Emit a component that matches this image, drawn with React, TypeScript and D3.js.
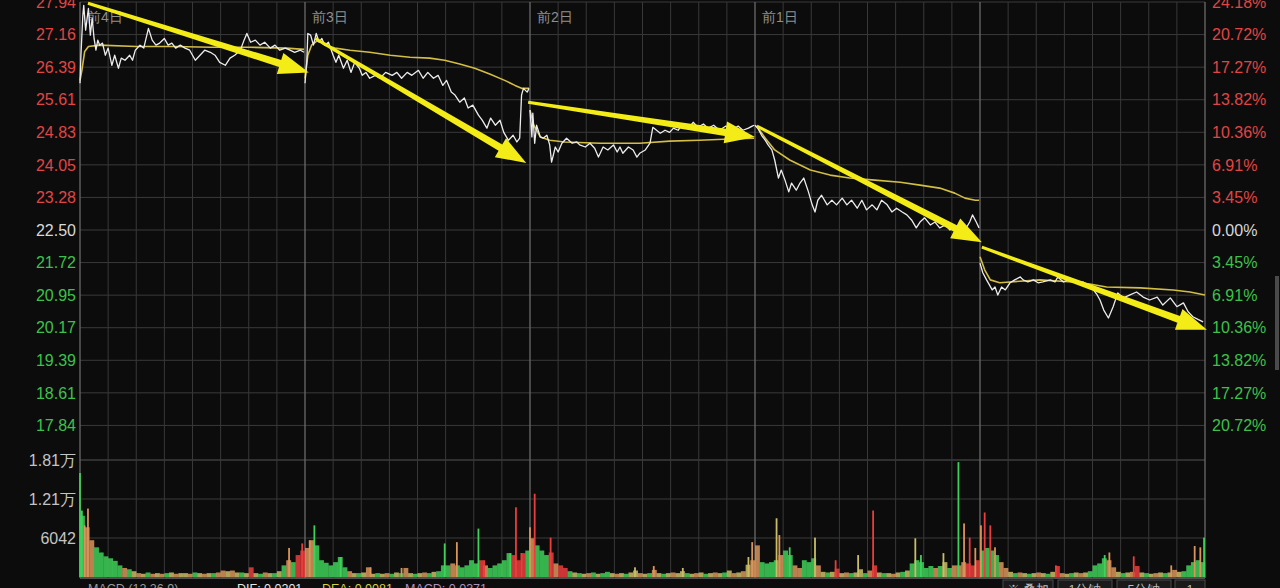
import React from 'react';
import * as d3 from 'd3';

type P = [number, number];

// ---------- axis labels ----------
const priceLabels = ['27.94', '27.16', '26.39', '25.61', '24.83', '24.05', '23.28', '22.50', '21.72', '20.95', '20.17', '19.39', '18.61', '17.84'];
const pctLabels = ['24.18%', '20.72%', '17.27%', '13.82%', '10.36%', '6.91%', '3.45%', '0.00%', '3.45%', '6.91%', '10.36%', '13.82%', '17.27%', '20.72%'];
const volTickValues = [18126, 12084, 6042];
const volTickLabels = ['1.81万', '1.21万', '6042'];
const dayLabels = ['前4日', '前3日', '前2日', '前1日'];
const preClose = 22.5;
const priceTop = 27.94;

// ---------- price (minute of day, price) ----------
const day1Price: P[] = [
  [0, 26.0], [1, 26.67], [3, 27.62], [4, 27.86], [6, 27.27], [9, 27.79], [11, 27.15], [13, 27.55], [15, 27.07], [17, 26.79],
  [19, 27.03], [21, 26.91], [24, 26.96], [27, 26.67], [30, 26.84], [34, 26.43], [37, 26.67], [41, 26.36], [44, 26.6], [48, 26.55],
  [53, 26.67], [56, 26.55], [59, 26.79], [64, 26.91], [68, 26.84], [73, 27.31], [77, 27.03], [81, 26.91], [85, 26.96], [90, 27.07],
  [94, 26.91], [98, 26.96], [102, 26.84], [107, 26.91], [112, 26.84], [117, 26.79], [123, 26.55], [128, 26.67], [133, 26.79], [139, 26.74],
  [144, 26.67], [149, 26.5], [155, 26.43], [160, 26.6], [165, 26.67], [171, 26.79], [175, 27.03], [178, 27.19], [182, 26.98], [187, 27.03],
  [192, 26.91], [197, 26.98], [203, 26.84], [208, 26.91], [213, 26.79], [219, 26.84], [224, 26.79], [229, 26.74], [235, 26.79], [239, 26.74],
];
const day2Price: P[] = [
  [0, 26.0], [2, 26.55], [3, 27.19], [6, 27.15], [9, 26.91], [12, 27.19], [15, 26.98], [18, 27.07], [21, 26.91], [25, 26.98],
  [30, 26.67], [33, 26.5], [36, 26.67], [41, 26.36], [45, 26.55], [49, 26.26], [53, 26.5], [58, 26.36], [61, 26.19], [65, 26.26],
  [69, 26.12], [75, 26.19], [80, 26.12], [86, 26.26], [93, 26.19], [98, 26.26], [103, 26.12], [109, 26.26], [114, 26.19], [121, 26.31],
  [126, 26.12], [131, 26.26], [137, 26.12], [142, 26.19], [147, 25.95], [151, 26.07], [156, 25.79], [160, 25.72], [165, 25.55], [170, 25.65],
  [174, 25.41], [179, 25.48], [185, 25.24], [189, 25.12], [194, 24.93], [198, 25.17], [203, 25.0], [208, 25.12], [212, 24.83], [217, 24.64],
  [222, 24.76], [226, 24.6], [229, 24.69], [231, 25.72], [233, 25.88], [237, 25.79], [239, 25.88],
];
const day3Price: P[] = [
  [0, 25.36], [2, 24.72], [3, 25.29], [5, 24.57], [7, 25.0], [11, 24.72], [14, 24.69], [18, 24.76], [21, 24.53], [23, 24.12],
  [27, 24.48], [30, 24.36], [34, 24.57], [39, 24.69], [45, 24.57], [50, 24.6], [53, 24.53], [59, 24.48], [64, 24.57], [69, 24.45],
  [73, 24.24], [78, 24.48], [83, 24.41], [89, 24.53], [93, 24.36], [96, 24.48], [99, 24.33], [105, 24.48], [110, 24.41], [114, 24.24],
  [117, 24.33], [123, 24.41], [128, 24.57], [131, 24.95], [135, 24.88], [139, 24.81], [144, 24.88], [149, 24.83], [153, 24.93], [158, 24.88],
  [162, 25.0], [169, 24.93], [174, 25.07], [179, 24.95], [185, 25.03], [190, 24.93], [196, 25.0], [202, 24.88], [209, 24.98], [215, 24.88],
  [222, 24.98], [227, 24.88], [233, 24.93], [237, 24.98], [239, 25.0],
];
const day4Price: P[] = [
  [0, 25.0], [3, 24.93], [7, 24.76], [11, 24.64], [14, 24.53], [18, 24.41], [21, 24.17], [25, 23.74], [28, 23.93], [32, 23.69],
  [36, 23.41], [39, 23.62], [44, 23.45], [48, 23.62], [52, 23.74], [57, 23.41], [61, 23.1], [64, 22.93], [67, 23.21], [71, 23.33],
  [77, 23.1], [82, 23.21], [87, 23.1], [93, 23.26], [98, 23.1], [103, 23.21], [109, 23.02], [114, 23.21], [119, 22.98], [125, 23.1],
  [130, 22.98], [135, 23.21], [141, 23.1], [146, 22.93], [151, 23.02], [157, 22.93], [162, 22.86], [167, 22.74], [172, 22.55], [176, 22.69],
  [181, 22.79], [187, 22.62], [192, 22.69], [197, 22.55], [203, 22.62], [208, 22.5], [213, 22.55], [219, 22.4], [224, 22.5], [229, 22.69],
  [232, 22.86], [236, 22.69], [239, 22.55],
];
const day5Price: P[] = [
  [0, 21.71], [3, 21.48], [7, 21.31], [13, 21.07], [16, 21.14], [19, 20.95], [23, 21.14], [27, 21.07], [32, 21.24], [37, 21.31],
  [43, 21.38], [46, 21.31], [51, 21.26], [57, 21.31], [62, 21.24], [67, 21.26], [75, 21.31], [80, 21.26], [83, 21.38], [89, 21.26],
  [94, 21.31], [99, 21.31], [105, 21.24], [110, 21.26], [115, 21.19], [121, 21.07], [125, 20.95], [128, 20.83], [132, 20.59], [137, 20.4],
  [142, 20.67], [147, 21.0], [153, 20.88], [160, 20.95], [167, 21.02], [174, 20.9], [181, 20.83], [189, 20.9], [195, 20.71], [203, 20.88],
  [210, 20.67], [217, 20.76], [222, 20.55], [227, 20.43], [233, 20.36], [238, 20.31],
];

// ---------- average price ----------
const day1Avg: P[] = [[0, 26.07], [2, 26.31], [5, 26.76], [9, 26.88], [21, 26.91], [60, 26.88], [100, 26.88], [140, 26.86], [181, 26.86], [220, 26.84], [239, 26.81]];
const day2Avg: P[] = [[0, 26.12], [3, 26.67], [7, 26.91], [14, 27.03], [21, 26.91], [32, 26.84], [48, 26.79], [69, 26.74], [91, 26.67], [112, 26.62], [133, 26.6], [149, 26.55], [165, 26.46], [181, 26.36], [197, 26.22], [213, 26.07], [224, 25.95], [231, 25.88], [239, 25.88]];
const day3Avg: P[] = [[0, 25.36], [4, 25.0], [11, 24.72], [21, 24.64], [37, 24.6], [75, 24.57], [117, 24.57], [149, 24.62], [181, 24.64], [213, 24.67], [239, 24.69]];
const day4Avg: P[] = [[0, 25.0], [5, 24.88], [11, 24.69], [21, 24.41], [37, 24.17], [59, 23.93], [80, 23.81], [101, 23.74], [128, 23.69], [155, 23.64], [176, 23.57], [197, 23.5], [213, 23.38], [224, 23.26], [235, 23.21], [239, 23.21]];
const day5Avg: P[] = [[0, 21.86], [5, 21.55], [11, 21.31], [21, 21.24], [32, 21.26], [64, 21.31], [99, 21.26], [117, 21.21], [135, 21.14], [171, 21.12], [206, 21.07], [224, 21.02], [240, 20.95]];

const dayPrices = [day1Price, day2Price, day3Price, day4Price, day5Price];
const dayAvgs = [day1Avg, day2Avg, day3Avg, day4Avg, day5Avg];

// ---------- volume: 48 five-minute slots per day + spikes ----------
const day1Vol = [9500, 7700, 5700, 4600, 3800, 3200, 2900, 2500, 1800, 1400, 1200, 900, 600, 500, 700, 500, 600, 500, 600, 700, 500, 600, 600, 500, 700, 600, 500, 600, 600, 700, 1000, 900, 1000, 700, 700, 600, 1500, 600, 500, 700, 600, 600, 900, 1800, 2600, 2300, 3400, 4100];
const day1VolColor = 'googgggggogy' + 'oygoyogyoy' + 'yogyoygo' + 'oyoygyrygoyg' + 'ygogrr';
const day2Vol = [4500, 5700, 4900, 2600, 2200, 1800, 2300, 3100, 1500, 900, 600, 600, 700, 1500, 500, 600, 500, 600, 500, 700, 600, 1400, 600, 500, 600, 700, 600, 800, 900, 1800, 1800, 2100, 1800, 1500, 1800, 2600, 2100, 2600, 1800, 1400, 1800, 2100, 2600, 3700, 3400, 2600, 3700, 4100];
const day2VolColor = 'oo' + 'ggggggg' + 'o' + 'ygyoygyogygoygyogyg' + 'gg' + 'o' + 'ggggg' + 'r' + 'o' + 'ggggg' + 'rrr' + 'g';
const day3Vol = [6000, 4900, 4100, 3400, 3800, 2100, 1800, 1400, 900, 700, 600, 500, 600, 700, 500, 600, 800, 600, 500, 600, 500, 700, 1000, 600, 500, 600, 1100, 600, 500, 600, 700, 600, 900, 600, 500, 600, 700, 500, 600, 700, 600, 700, 1000, 600, 700, 900, 1900, 2600];
const day3VolColor = 'ogggrorr' + 'gygyogyg' + 'gyoygyyo' + 'ygoygyoy' + 'ygyoygyo' + 'ygyoyoyo';
const day4Vol = [4900, 2300, 2100, 2300, 2600, 3400, 4100, 3400, 1800, 1400, 2600, 2300, 2900, 1800, 800, 700, 800, 1300, 600, 700, 600, 700, 1200, 600, 1000, 1800, 700, 600, 600, 500, 700, 800, 1000, 2100, 2600, 2300, 1400, 1700, 1400, 1700, 2300, 1400, 1800, 1800, 2300, 2100, 1800, 2600];
const day4VolColor = 'oggggogg' + 'oogggoyg' + 'yryogyyg' + 'orygyoyg' + 'ygggggog' + 'ygooorrr';
const day5Vol = [4100, 4500, 4100, 3400, 2300, 1400, 800, 600, 700, 600, 500, 600, 700, 600, 500, 800, 1700, 600, 500, 600, 700, 600, 700, 900, 1800, 2100, 2900, 2600, 1500, 800, 600, 700, 800, 1700, 700, 600, 500, 600, 700, 600, 700, 1100, 800, 900, 1800, 2300, 2600, 2300];
const day5VolColor = 'ggggooyg' + 'oygyoygy' + 'roygyoyg' + 'gggooygy' + 'orygyoyg' + 'yoyggggg';
const dayVols = [day1Vol, day2Vol, day3Vol, day4Vol, day5Vol];
const dayVolColors = [day1VolColor, day2VolColor, day3VolColor, day4VolColor, day5VolColor];

// [minute over five days, volume, colour]
const volSpikes: [number, number, string][] = [
  [0, 16100, 'g'], [2, 10300, 'g'], [5, 8000, 'o'], [8.5, 10600, 'o'], [223, 4500, 'o'], [237, 5200, 'r'], [245, 5700, 'o'],
  [250, 8000, 'g'], [278, 3100, 'g'], [310, 1500, 'o'], [343, 1400, 'o'], [389, 5200, 'g'], [402, 5400, 'o'], [425, 7500, 'g'],
  [431, 2600, 'r'], [459, 3700, 'g'], [465, 10800, 'r'], [471, 3700, 'r'], [480, 7700, 'o'], [485, 12900, 'r'], [502, 6100, 'r'],
  [592, 1500, 'y'], [612, 1700, 'o'], [643, 1400, 'y'], [713, 3100, 'y'], [717, 5400, 'o'], [743, 9100, 'y'], [746, 6500, 'o'],
  [757, 4600, 'g'], [784, 6100, 'y'], [806, 2600, 'r'], [830, 3400, 'y'], [846, 10300, 'r'], [891, 6000, 'y'], [897, 3400, 'g'],
  [921, 3700, 'y'], [937, 17800, 'g'], [943, 8300, 'o'], [949, 6100, 'r'], [955, 4500, 'o'], [961, 8000, 'o'], [965, 10000, 'r'],
  [971, 8000, 'r'], [976, 4600, 'o'], [1041, 1800, 'r'], [1093, 3400, 'g'], [1098, 3800, 'o'], [1124, 3200, 'r'], [1164, 1800, 'o'],
  [1189, 4800, 'o'], [1195, 4600, 'o'], [1199, 6100, 'g'],
];

// ---------- annotation arrows: [minute, price] start -> tip ----------
const arrows: [P, P][] = [
  [[8.5, 27.91], [244, 26.26]],
  [[251, 27.07], [476, 24.1]],
  [[478, 25.55], [720, 24.72]],
  [[722, 24.98], [962, 22.21]],
  [[962, 22.09], [1202, 20.12]],
];

const bottomTexts = [
  { t: 'MACD  (12,26,9)', c: '#9a9a9a', x: 88 },
  { t: 'DIF: 0.0201', c: '#e6e6e6', x: 237 },
  { t: 'DEA: 0.0081', c: '#d8d040', x: 322 },
  { t: 'MACD: 0.0371', c: '#b090c0', x: 405 },
];
const bottomTabs = ['※ 叠加', '1分钟', '5分钟', '1'];

const volColorMap: Record<string, string> = { g: '#3fd15a', r: '#ec3d3d', o: '#d9955a', y: '#c9bd66' };
const FONT = "'Liberation Sans', Arial, sans-serif";

export default function App() {
  const step = (priceTop - preClose) / 7;
  const x = d3.scaleLinear().domain([0, 1200]).range([80, 1205]);
  const y = d3.scaleLinear().domain([priceTop - 14 * step, priceTop]).range([458, 2]);
  const yv = d3.scaleLinear().domain([0, 18126]).range([577, 460]);

  const tickVals = priceLabels.map((_, k) => priceTop - k * step);

  const lineFor = (di: number) =>
    d3.line<P>().x((d) => x(di * 240 + d[0])).y((d) => y(d[1]));

  const vgrid = d3.range(0, 41).map((i) => ({ xv: x(i * 30), major: i % 8 === 0 }));

  const arrowPoly = (a: [P, P]) => {
    const p0 = [x(a[0][0]), y(a[0][1])];
    const p1 = [x(a[1][0]), y(a[1][1])];
    const dx = p1[0] - p0[0];
    const dy = p1[1] - p0[1];
    const len = Math.hypot(dx, dy);
    const ux = dx / len, uy = dy / len;
    const nx = -uy, ny = ux;
    const L = 30, hw = 11, w0 = 1.5, w1 = 3.6;
    const hb = [p1[0] - ux * L, p1[1] - uy * L];
    const pts = [
      [p0[0] + nx * w0, p0[1] + ny * w0],
      [hb[0] + nx * w1, hb[1] + ny * w1],
      [hb[0] + nx * hw, hb[1] + ny * hw],
      [p1[0], p1[1]],
      [hb[0] - nx * hw, hb[1] - ny * hw],
      [hb[0] - nx * w1, hb[1] - ny * w1],
      [p0[0] - nx * w0, p0[1] - ny * w0],
    ];
    return pts.map((p) => p.join(',')).join(' ');
  };

  const labelColor = (k: number) => (k < 7 ? '#e04545' : k === 7 ? '#d8d8d8' : '#3cc24a');

  return (
    <svg width={1280} height={588} style={{ position: 'fixed', left: 0, top: 0, background: '#0c0c0c' }} fontFamily={FONT}>
      <rect x={0} y={0} width={1280} height={588} fill="#0c0c0c" />
      {/* horizontal grid, price */}
      {tickVals.map((v, k) => (
        <line key={'h' + k} x1={80} x2={1205} y1={y(v)} y2={y(v)} stroke="#3a3a3a" strokeWidth={1} />
      ))}
      {/* volume grid */}
      {volTickValues.map((v, k) => (
        <line key={'vh' + k} x1={80} x2={1205} y1={yv(v)} y2={yv(v)} stroke={k === 0 ? '#555' : '#3a3a3a'} strokeWidth={1} />
      ))}
      <line x1={80} x2={1205} y1={yv(0) + 1} y2={yv(0) + 1} stroke="#666" strokeWidth={1.5} />
      {/* vertical grid */}
      {vgrid.map((g, i) => (
        <line key={'v' + i} x1={g.xv} x2={g.xv} y1={2} y2={578} stroke={g.major ? '#6a6a6a' : '#383838'} strokeWidth={g.major ? 1.3 : 1} />
      ))}

      {/* volume base slots */}
      {dayVols.map((vals, di) =>
        vals.map((v, i) => {
          const x0 = x(di * 240 + i * 5);
          const x1 = x(di * 240 + (i + 1) * 5);
          return (
            <rect key={`vb${di}-${i}`} x={x0} y={yv(v)} width={x1 - x0 + 0.2} height={yv(0) - yv(v)}
              fill={volColorMap[dayVolColors[di][i]]} opacity={0.85} />
          );
        })
      )}
      {volSpikes.map((s, i) => (
        <rect key={'sp' + i} x={x(s[0]) - 0.9} y={yv(s[1])} width={1.8} height={yv(0) - yv(s[1])} fill={volColorMap[s[2]]} />
      ))}

      {/* day labels */}
      {dayLabels.map((t, i) => (
        <text key={'dl' + i} x={x(i * 240) + 7} y={22} fontSize={14} fill="#8f8f8f">{t}</text>
      ))}

      {/* avg lines */}
      {dayAvgs.map((d, di) => (
        <path key={'avg' + di} d={lineFor(di)(d) || ''} fill="none" stroke="#d2bd45" strokeWidth={1.6} strokeLinejoin="round" />
      ))}
      {/* price lines */}
      {dayPrices.map((d, di) => (
        <path key={'pr' + di} d={lineFor(di)(d) || ''} fill="none" stroke="#ececec" strokeWidth={1.3} strokeLinejoin="round" />
      ))}

      {/* arrows */}
      {arrows.map((a, i) => (
        <polygon key={'ar' + i} points={arrowPoly(a)} fill="#f4ec17" />
      ))}

      {/* left price labels */}
      {tickVals.map((v, k) => (
        <text key={'pl' + k} x={76} y={y(v)} dy="0.36em" textAnchor="end" fontSize={16} fill={labelColor(k)}>{priceLabels[k]}</text>
      ))}
      {/* right percent labels */}
      {tickVals.map((v, k) => (
        <text key={'pc' + k} x={1212} y={y(v)} dy="0.36em" fontSize={16} fill={labelColor(k)}>{pctLabels[k]}</text>
      ))}
      {/* volume labels */}
      {volTickValues.map((v, k) => (
        <text key={'vl' + k} x={76} y={yv(v)} dy="0.36em" textAnchor="end" fontSize={16} fill="#c4c4c4">{volTickLabels[k]}</text>
      ))}

      {/* bottom indicator row (cut off by the frame, as in the reference) */}
      {bottomTexts.map((b, i) => (
        <text key={'bt' + i} x={b.x} y={593} fontSize={12.5} fill={b.c}>{b.t}</text>
      ))}
      {bottomTabs.map((t, i) => {
        const xs = [1003, 1058, 1117, 1175];
        const ws = [50, 54, 54, 30];
        return (
          <g key={'tab' + i}>
            <rect x={xs[i]} y={580} width={ws[i]} height={14} fill="#1a1a1a" stroke="#4a4a4a" />
            <text x={xs[i] + ws[i] / 2} y={594} textAnchor="middle" fontSize={12.5} fill="#bdbdbd">{t}</text>
          </g>
        );
      })}
      {/* scrollbar */}
      <rect x={1275} y={276} width={4} height={94} fill="#4a4a4a" />
    </svg>
  );
}
